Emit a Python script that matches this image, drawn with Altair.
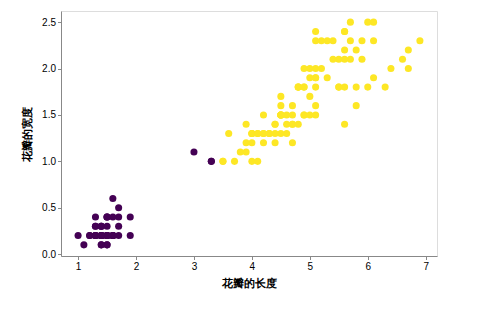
import altair as alt
import pandas as pd

petal_length = [
    1.4, 1.4, 1.3, 1.5, 1.4, 1.7, 1.4, 1.5, 1.4, 1.5, 1.5, 1.6, 1.4, 1.1, 1.2, 1.5, 1.3, 1.4, 1.7, 1.5,
    1.7, 1.5, 1.0, 1.7, 1.9, 1.6, 1.6, 1.5, 1.4, 1.6, 1.6, 1.5, 1.5, 1.4, 1.5, 1.2, 1.3, 1.4, 1.3, 1.5,
    1.3, 1.3, 1.3, 1.6, 1.9, 1.4, 1.6, 1.4, 1.5, 1.4,
    4.7, 4.5, 4.9, 4.0, 4.6, 4.5, 4.7, 3.3, 4.6, 3.9, 3.5, 4.2, 4.0, 4.7, 3.6, 4.4, 4.5, 4.1, 4.5, 3.9,
    4.8, 4.0, 4.9, 4.7, 4.3, 4.4, 4.8, 5.0, 4.5, 3.5, 3.8, 3.7, 3.9, 5.1, 4.5, 4.5, 4.7, 4.4, 4.1, 4.0,
    4.4, 4.6, 4.0, 3.3, 4.2, 4.2, 4.2, 4.3, 3.0, 4.1,
    6.0, 5.1, 5.9, 5.6, 5.8, 6.6, 4.5, 6.3, 5.8, 6.1, 5.1, 5.3, 5.5, 5.0, 5.1, 5.3, 5.5, 6.7, 6.9, 5.0,
    5.7, 4.9, 6.7, 4.9, 5.7, 6.0, 4.8, 4.9, 5.6, 5.8, 6.1, 6.4, 5.6, 5.1, 5.6, 6.1, 5.6, 5.5, 4.8, 5.4,
    5.6, 5.1, 5.1, 5.9, 5.7, 5.2, 5.0, 5.2, 5.4, 5.1,
]
petal_width = [
    0.2, 0.2, 0.2, 0.2, 0.2, 0.4, 0.3, 0.2, 0.2, 0.1, 0.2, 0.2, 0.1, 0.1, 0.2, 0.4, 0.4, 0.3, 0.3, 0.3,
    0.2, 0.4, 0.2, 0.5, 0.2, 0.2, 0.4, 0.2, 0.2, 0.2, 0.2, 0.4, 0.1, 0.2, 0.2, 0.2, 0.2, 0.1, 0.2, 0.2,
    0.3, 0.3, 0.2, 0.6, 0.4, 0.3, 0.2, 0.2, 0.2, 0.2,
    1.4, 1.5, 1.5, 1.3, 1.5, 1.3, 1.6, 1.0, 1.3, 1.4, 1.0, 1.5, 1.0, 1.4, 1.3, 1.4, 1.5, 1.0, 1.5, 1.1,
    1.8, 1.3, 1.5, 1.2, 1.3, 1.4, 1.4, 1.7, 1.5, 1.0, 1.1, 1.0, 1.2, 1.6, 1.5, 1.6, 1.5, 1.3, 1.3, 1.3,
    1.2, 1.4, 1.2, 1.0, 1.3, 1.2, 1.3, 1.3, 1.1, 1.3,
    2.5, 1.9, 2.1, 1.8, 2.2, 2.1, 1.7, 1.8, 1.8, 2.5, 2.0, 1.9, 2.1, 2.0, 2.4, 2.3, 1.8, 2.2, 2.3, 1.5,
    2.3, 2.0, 2.0, 1.8, 2.1, 1.8, 1.8, 1.8, 2.1, 1.6, 1.9, 2.0, 2.2, 1.5, 1.4, 2.3, 2.4, 1.8, 1.8, 2.1,
    2.4, 2.3, 1.9, 2.3, 2.5, 2.3, 1.9, 2.0, 2.3, 1.8,
]
cluster = [0 if (l < 3.4) else 1 for l in petal_length]

x_ticks = [1, 2, 3, 4, 5, 6, 7]
y_ticks = [0.0, 0.5, 1.0, 1.5, 2.0, 2.5]

df = pd.DataFrame({"length": petal_length, "width": petal_width, "cluster": cluster})

FONT = "Noto Sans CJK SC"

chart = (
    alt.Chart(df)
    .mark_circle(size=50, opacity=1)
    .encode(
        x=alt.X(
            "length:Q",
            scale=alt.Scale(domain=[0.705, 7.195], nice=False, zero=False),
            axis=alt.Axis(
                title="花瓣的长度",
                values=x_ticks,
                format="d",
                grid=False,
                tickSize=3.5,
                titlePadding=6,
            ),
        ),
        y=alt.Y(
            "width:Q",
            scale=alt.Scale(domain=[-0.02, 2.62], nice=False, zero=False),
            axis=alt.Axis(
                title="花瓣的宽度",
                values=y_ticks,
                format=".1f",
                grid=False,
                tickSize=3.5,
                titlePadding=9,
            ),
        ),
        color=alt.Color(
            "cluster:N",
            scale=alt.Scale(domain=[0, 1], range=["#440154", "#fde725"]),
            legend=None,
        ),
    )
    .properties(
        width=376,
        height=245,
        autosize=alt.AutoSizeParams(type="none"),
        padding={"left": 61, "top": 11, "right": 57, "bottom": 55},
    )
    .configure_view(stroke="#333333", strokeWidth=1)
    .configure_axis(
        domainColor="#333333",
        tickColor="#333333",
        labelColor="#333333",
        titleColor="#333333",
        labelFont=FONT,
        titleFont=FONT,
        labelFontSize=10,
        titleFontSize=10,
        titleFontWeight="normal",
        labelPadding=3,
    )
    .configure(background="white")
)

chart.save("out.html", embed_options={"renderer": "svg", "actions": False})
